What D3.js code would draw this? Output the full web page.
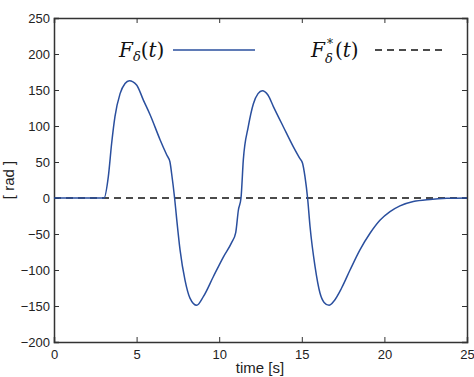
<!DOCTYPE html>
<html>
<head>
<meta charset="utf-8">
<script src="https://cdn.jsdelivr.net/npm/d3@7"></script>
<style>
  body { margin: 0; background: #fff; }
  text { font-family: "Liberation Sans", Arial, sans-serif; }
</style>
</head>
<body>
<div id="chart"></div>
<script>
// data
const time = [0, 2.0, 3.03, 3.29, 3.49, 3.69, 4.0, 4.3, 4.56, 5.0, 5.41, 5.81, 6.42, 6.82, 7.02, 7.12, 7.3, 7.43, 7.63, 7.93, 8.23, 8.64,
  9.04, 9.65, 10.25, 10.75, 11.0, 11.16, 11.32, 11.46, 11.76, 12.07, 12.35, 12.61, 12.95, 13.28, 13.88, 14.49, 14.85, 15.05, 15.19, 15.35,
  15.5, 15.8, 16.1, 16.35, 16.65, 16.95, 17.41, 17.92, 18.52, 19.13, 19.73, 20.34, 20.94, 21.75, 22.76, 23.77, 25];
const fDelta = [0, 0, 0, 30, 76, 113, 145, 159, 163, 157, 136, 116, 81, 60, 50, 34, 0, -30, -72, -114, -139, -149,
  -137, -109, -82, -62, -48, -17, 0, 53, 99, 131, 145, 149, 143, 127, 99, 71, 56, 48, 30, 0,
  -40, -95, -132, -145, -149, -143, -125, -100, -72, -49, -31, -19, -11, -5, -2, -0.5, 0];
const fRef = [[0, 0], [25, 0]];
const xTicks = [0, 5, 10, 15, 20, 25];
const yTicks = [-200, -150, -100, -50, 0, 50, 100, 150, 200, 250];

const W = 474, H = 377;
const m = { left: 54, right: 7, top: 18, bottom: 35 };

const svg = d3.select("#chart").append("svg").attr("width", W).attr("height", H);

const x = d3.scaleLinear().domain([0, 25]).range([m.left, W - m.right]);
const y = d3.scaleLinear().domain([-200, 250]).range([H - m.bottom, m.top]);

const axisColor = "#333";
const fmt = d => d < 0 ? "\u2212" + Math.abs(d) : d;

// bottom and left axes, ticks pointing inward
const gx = svg.append("g").attr("transform", `translate(0,${y(-200)})`)
  .call(d3.axisBottom(x).tickValues(xTicks).tickSize(-5).tickPadding(8).tickFormat(fmt));
const gy = svg.append("g").attr("transform", `translate(${x(0)},0)`)
  .call(d3.axisLeft(y).tickValues(yTicks).tickSize(-5).tickPadding(4).tickFormat(fmt));
// top and right box
const gt = svg.append("g").attr("transform", `translate(0,${y(250)})`)
  .call(d3.axisTop(x).tickValues(xTicks).tickSize(-5).tickFormat(""));
const gr = svg.append("g").attr("transform", `translate(${x(25)},0)`)
  .call(d3.axisRight(y).tickValues(yTicks).tickSize(-5).tickFormat(""));

[gx, gy, gt, gr].forEach(g => {
  g.select(".domain").attr("stroke", axisColor).attr("stroke-width", 1.5);
  g.selectAll(".tick line").attr("stroke", axisColor);
  g.selectAll(".tick text").attr("fill", "#222").style("font-size", "13px");
});

// reference (dashed)
svg.append("path")
  .datum(fRef)
  .attr("fill", "none")
  .attr("stroke", "#111")
  .attr("stroke-width", 1.4)
  .attr("stroke-dasharray", "7,5")
  .attr("d", d3.line().x(d => x(d[0])).y(d => y(d[1])));

// F_delta(t)
const line = d3.line().curve(d3.curveMonotoneX).x((d, i) => x(time[i])).y(d => y(d));
svg.append("path")
  .datum(fDelta)
  .attr("fill", "none")
  .attr("stroke", "#2a4f9e")
  .attr("stroke-width", 1.5)
  .attr("d", line);

// legend
const serif = '"DejaVu Serif", "Liberation Serif", serif';
const leg1 = svg.append("text").attr("x", 119).attr("y", 57)
  .style("font-family", serif).style("font-size", "20px").attr("fill", "#111");
leg1.append("tspan").style("font-style", "italic").text("F");
leg1.append("tspan").attr("dy", 4).style("font-size", "13px").style("font-style", "italic").text("δ");
leg1.append("tspan").attr("dy", -4).text("(");
leg1.append("tspan").style("font-style", "italic").text("t");
leg1.append("tspan").text(")");
svg.append("line").attr("x1", 173).attr("x2", 255).attr("y1", 50).attr("y2", 50)
  .attr("stroke", "#2a4f9e").attr("stroke-width", 1.5);

// F*_delta(t) built from separate pieces so sub/superscript stack
svg.append("text").attr("x", 311).attr("y", 57)
  .style("font-family", serif).style("font-size", "20px").style("font-style", "italic")
  .attr("fill", "#111").text("F");
svg.append("text").attr("x", 327).attr("y", 48)
  .style("font-family", serif).style("font-size", "12px").attr("fill", "#111").text("*");
svg.append("text").attr("x", 325).attr("y", 63)
  .style("font-family", serif).style("font-size", "13px").style("font-style", "italic")
  .attr("fill", "#111").text("δ");
const leg2 = svg.append("text").attr("x", 335).attr("y", 57)
  .style("font-family", serif).style("font-size", "20px").attr("fill", "#111");
leg2.append("tspan").text("(");
leg2.append("tspan").style("font-style", "italic").text("t");
leg2.append("tspan").text(")");
svg.append("line").attr("x1", 375).attr("x2", 445).attr("y1", 50).attr("y2", 50)
  .attr("stroke", "#111").attr("stroke-width", 1.4).attr("stroke-dasharray", "7,5");

// axis titles
svg.append("text").attr("x", 260).attr("y", 373).attr("text-anchor", "middle")
  .style("font-size", "15px").attr("fill", "#222").text("time [s]");
svg.append("text").attr("transform", "translate(14,180) rotate(-90)").attr("text-anchor", "middle")
  .style("font-size", "15px").attr("fill", "#222").text("[ rad ]");
</script>
</body>
</html>
